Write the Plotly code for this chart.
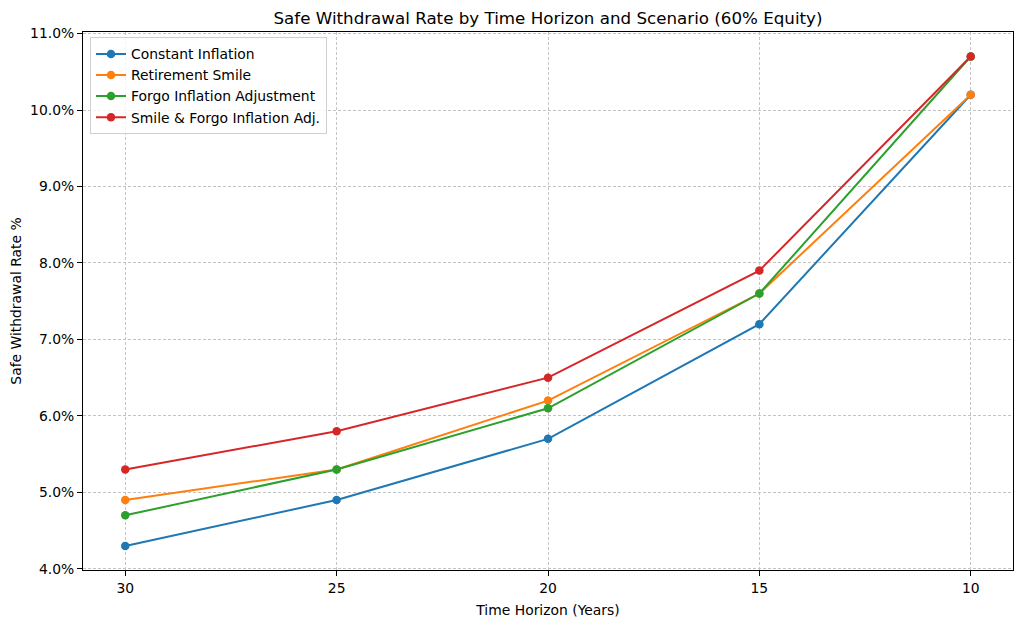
import plotly.graph_objects as go

horizons = ["30", "25", "20", "15", "10"]
constant_inflation = [4.3, 4.9, 5.7, 7.2, 10.2]
retirement_smile = [4.9, 5.3, 6.2, 7.6, 10.2]
forgo_inflation = [4.7, 5.3, 6.1, 7.6, 10.7]
smile_forgo = [5.3, 5.8, 6.5, 7.9, 10.7]
yticks = [4.0, 5.0, 6.0, 7.0, 8.0, 9.0, 10.0, 11.0]

series = [
    ("Constant Inflation", constant_inflation, "#1f77b4"),
    ("Retirement Smile", retirement_smile, "#ff7f0e"),
    ("Forgo Inflation Adjustment", forgo_inflation, "#2ca02c"),
    ("Smile & Forgo Inflation Adj.", smile_forgo, "#d62728"),
]

fig = go.Figure()
for name, vals, color in series:
    fig.add_trace(go.Scatter(
        x=horizons, y=vals, name=name, mode="lines+markers",
        line=dict(color=color, width=2),
        marker=dict(color=color, size=8.5),
    ))

FS = 13.9
fig.update_layout(
    width=1015, height=616,
    margin=dict(l=75, r=10, t=24, b=54, autoexpand=False),
    paper_bgcolor="white", plot_bgcolor="white",
    font=dict(family="DejaVu Sans", size=FS, color="black"),
    title=dict(text="Safe Withdrawal Rate by Time Horizon and Scenario (60% Equity)",
               x=0.5, xanchor="center", xref="paper",
               y=1 - 10 / 616, yanchor="middle", yref="container",
               font=dict(size=16.7)),
    legend=dict(x=0.0075, y=0.99, xanchor="left", yanchor="top",
                bgcolor="rgba(255,255,255,0.8)", bordercolor="#d0d0d0", borderwidth=1,
                font=dict(size=FS), tracegroupgap=0, itemwidth=30),
    showlegend=True,
)
grid = dict(showgrid=True, gridcolor="#c4c4c4", gridwidth=0.8, griddash="3px,2px")
fig.update_xaxes(
    type="category", range=[-0.2, 4.2], automargin=False,
    title=dict(text="Time Horizon (Years)", font=dict(size=FS), standoff=10),
    showline=True, linecolor="black", linewidth=1, mirror=True,
    ticks="outside", ticklen=5, tickcolor="black",
    tickfont=dict(size=FS), **grid,
)
fig.update_yaxes(
    range=[3.985, 11.02], automargin=False,
    tickvals=yticks, ticktext=[f"{v:.1f}%" for v in yticks],
    title=dict(text="Safe Withdrawal Rate %", font=dict(size=FS), standoff=8),
    showline=True, linecolor="black", linewidth=1, mirror=True,
    ticks="outside", ticklen=5, tickcolor="black",
    zeroline=False, tickfont=dict(size=FS), **grid,
)

fig.write_html("out.html")
